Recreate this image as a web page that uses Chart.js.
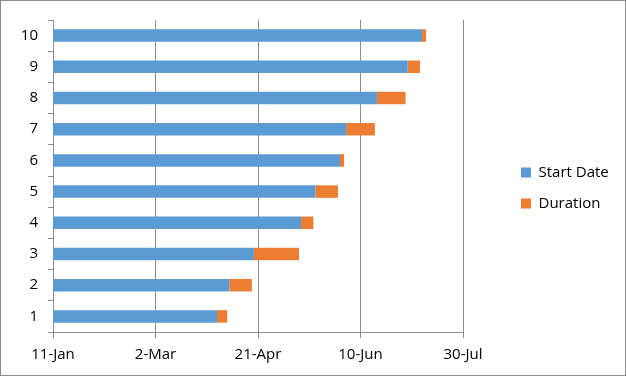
<!DOCTYPE html>
<html>
<head>
<meta charset="utf-8">
<script src="https://cdn.jsdelivr.net/npm/chart.js@4"></script>
<style>
  html, body { margin: 0; padding: 0; background: #fff; }
  #wrap { width: 626px; height: 376px; box-sizing: border-box; border: 1px solid #8c8c8c; }
  #wrap canvas { display: block; }
</style>
</head>
<body>
<div id="wrap"><canvas id="gantt" width="624" height="374"></canvas></div>
<script>
  // task rows, bottom to top
  const categories = ["1", "2", "3", "4", "5", "6", "7", "8", "9", "10"];
  const startDates = ["2015-04-01", "2015-04-07", "2015-04-19", "2015-05-12", "2015-05-19",
                      "2015-05-31", "2015-06-03", "2015-06-18", "2015-07-03", "2015-07-10"];
  const durations  = [5, 11, 22, 6, 11, 2, 14, 14, 6, 2];
  const xTickLabels = ["11-Jan", "2-Mar", "21-Apr", "10-Jun", "30-Jul"];
  const axisStart = "2015-01-11";
  const axisStep  = 50;

  const dayNum = s => Date.parse(s + "T00:00:00Z") / 86400000;
  const minDay = dayNum(axisStart);
  const startVals = startDates.map(dayNum);

  const font = { family: "'Open Sans', 'Liberation Sans', sans-serif", size: 15 };
  const gridCol = "#8c8c8c";

  // legend sits on the far right, the plot stops at the 30-Jul gridline
  const legendPin = {
    id: "legendPin",
    afterInit(chart) {
      const lg = chart.legend;
      const fit = lg.fit;
      lg.fit = function () { fit.call(this); this.width = 162; };
    },
    afterLayout(chart) {
      const lg = chart.legend;
      lg.left += 42; lg.right += 42;
      lg.top -= 9; lg.bottom -= 9;
    }
  };

  new Chart(document.getElementById("gantt"), {
    type: "bar",
    data: {
      labels: categories,
      datasets: [
        { label: "Start Date", data: startVals, backgroundColor: "#5b9bd5", borderWidth: 0,
          barPercentage: 0.4, categoryPercentage: 1 },
        { label: "Duration", data: durations, backgroundColor: "#ed7d31", borderWidth: 0,
          barPercentage: 0.4, categoryPercentage: 1 }
      ]
    },
    options: {
      indexAxis: "y",
      responsive: false,
      animation: false,
      layout: { padding: { top: 18, left: 0, right: 0, bottom: 0 } },
      plugins: {
        tooltip: { enabled: false },
        legend: {
          position: "right",
          labels: { color: "#000", boxWidth: 10, boxHeight: 10, padding: 16, font }
        }
      },
      scales: {
        x: {
          stacked: true,
          min: minDay, max: minDay + axisStep * (xTickLabels.length - 1),
          ticks: {
            stepSize: axisStep, color: "#000", font, padding: 8, maxRotation: 0,
            callback: (v, i) => xTickLabels[i]
          },
          grid: { color: gridCol, lineWidth: 1, tickLength: 6 },
          border: { color: gridCol },
          afterFit: s => { s.height = 43; }
        },
        y: {
          stacked: true,
          reverse: true,
          ticks: { color: "#000", font, padding: 10 },
          grid: { drawOnChartArea: false, color: gridCol, tickLength: 5, offset: true },
          border: { color: gridCol },
          afterFit: s => { s.width = 52; }
        }
      }
    },
    plugins: [legendPin]
  });
</script>
</body>
</html>
